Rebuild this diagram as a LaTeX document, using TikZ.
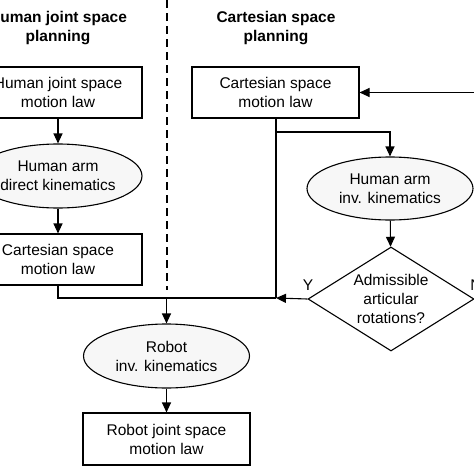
\documentclass[tikz,border=0pt]{standalone}
\usepackage{fontspec}
\setmainfont{Liberation Sans}
\usetikzlibrary{shapes.geometric,arrows.meta}
\tikzstyle{box}=[rectangle, draw, line width=1.1pt, fill=white, minimum width=167pt, minimum height=51pt, inner sep=0pt, align=center]
\tikzstyle{ell}=[ellipse, draw, line width=1.1pt, fill=gray!6, minimum width=166pt, minimum height=64pt, inner sep=0pt, align=center]
\tikzstyle{decision}=[diamond, draw, line width=1.1pt, fill=white, aspect=1.6, minimum width=166pt, minimum height=104pt, inner sep=0pt, align=center]
\tikzstyle{head}=[align=center, font=\bfseries\fontsize{15.5}{19}\selectfont]
\tikzstyle{flow}=[line width=1.1pt, -{Triangle[length=10pt,width=9pt]}]

\begin{document}
\begin{tikzpicture}[x=1pt, y=-1pt, font=\fontsize{15.5}{19}\selectfont]
    \useasboundingbox (0,0) rectangle (474,474);
    \clip (0,0) rectangle (474,474);

    % headers and separation
    \node[head] (hdrL) at (58,28) {Human joint space\\planning};
    \node[head] (hdrR) at (276,28) {Cartesian space\\planning};
    \draw[line width=1.1pt, dash pattern=on 8pt off 5pt] (167,0) -- (167,290);

    % human joint space planning
    \node[box, minimum width=168pt] (hjLaw) at (58,92.5) {Human joint space\\motion law};
    \node[ell, minimum width=168pt] (hdKin) at (58,176) {Human arm\\direct kinematics};
    \node[box, minimum width=168pt] (cLawL) at (58,259.5) {Cartesian space\\motion law};

    % cartesian space planning
    \node[box] (cLawR) at (275.5,92.5) {Cartesian space\\motion law};
    \node[ell, minimum height=63pt] (hiKin) at (390,188.5) {Human arm\\inv. kinematics};
    \node[decision] (adm) at (391,299) {Admissible\\articular\\rotations?};
    \node (yes) at (308,285) {Y};
    \node (no) at (476,285) {N};

    % robot
    \node[ell] (riKin) at (166.5,356) {Robot\\inv. kinematics};
    \node[box, minimum height=52pt] (rjLaw) at (166.5,439) {Robot joint space\\motion law};

    \coordinate (join) at (166.5,298);
    \coordinate (merge) at (276,298);
    \coordinate (split) at (276,132);
    \coordinate (loop) at (490,299);

    \draw[flow] (hjLaw) -- (hdKin);
    \draw[flow] (hdKin) -- (cLawL);
    \draw[line width=1.1pt] (cLawL.south) |- (merge);
    \draw[line width=1.1pt] (cLawR.south -| merge) -- (merge);
    \draw[flow] (split) -| (hiKin.north);
    \draw[flow] (hiKin) -- (adm);
    \draw[flow] (adm.west) -- (merge);
    \draw[flow] (adm.east) -- (loop) |- (cLawR.east);
    \draw[flow] (join) -- (riKin);
    \draw[flow] (riKin) -- (rjLaw);
\end{tikzpicture}
\end{document}
